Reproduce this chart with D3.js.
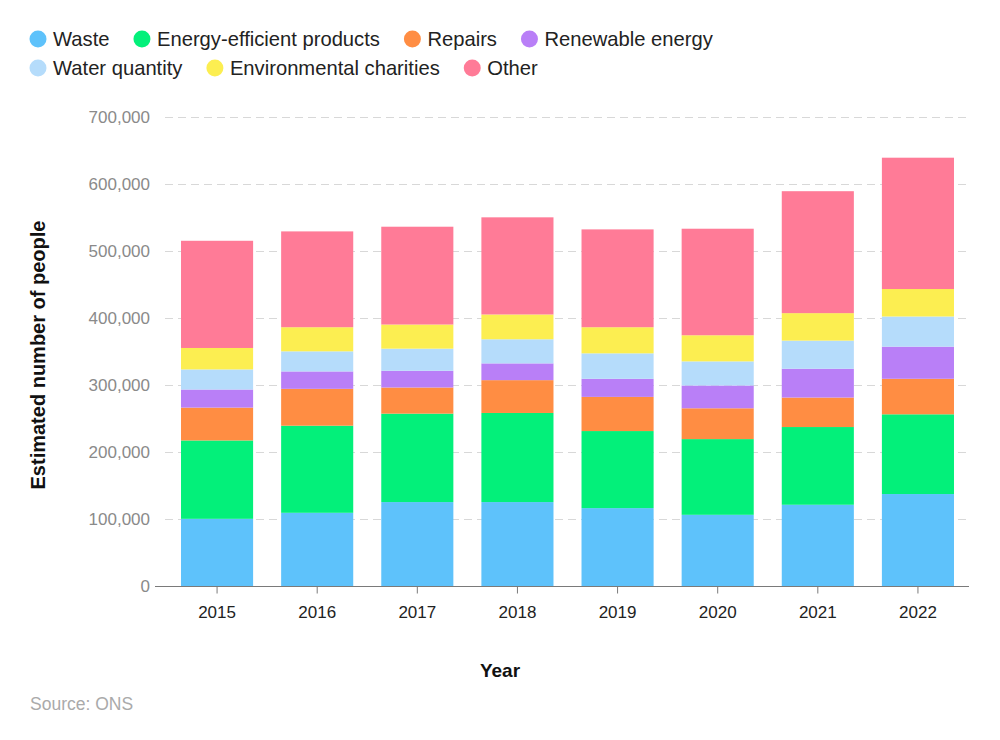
<!DOCTYPE html>
<html>
<head>
<meta charset="utf-8">
<script src="https://cdn.jsdelivr.net/npm/d3@7"></script>
<style>
  html, body { margin: 0; padding: 0; background: #fff; }
  svg { display: block; font-family: "Liberation Sans", Arial, sans-serif; }
</style>
</head>
<body>
<svg id="chart" width="1000" height="740"></svg>
<script>
const years = ["2015", "2016", "2017", "2018", "2019", "2020", "2021", "2022"];
const seriesNames = ["Waste", "Energy-efficient products", "Repairs", "Renewable energy",
                     "Water quantity", "Environmental charities", "Other"];
const seriesColors = ["#5ec2fb", "#03f07a", "#ff8d43", "#b97ff7", "#b5dcfb", "#fcee51", "#ff7b97"];
const waste      = [101000, 110000, 126000, 126000, 117000, 107000, 122000, 138000];
const energyEff  = [117000, 130000, 132000, 133000, 115000, 113000, 116000, 119000];
const repairs    = [49000, 55000, 39000, 49000, 51000, 46000, 44000, 53000];
const renewable  = [27000, 26000, 25000, 25000, 27000, 34000, 43000, 48000];
const water      = [30000, 30000, 33000, 36000, 38000, 36000, 42000, 45000];
const charities  = [32000, 36000, 36000, 37000, 39000, 39000, 41000, 41000];
const other      = [160000, 143000, 146000, 145000, 146000, 159000, 182000, 196000];
const yTicks = [0, 100000, 200000, 300000, 400000, 500000, 600000, 700000];
const yTitle = "Estimated number of people";
const xTitle = "Year";
const sourceText = "Source: ONS";

const seriesValues = [waste, energyEff, repairs, renewable, water, charities, other];
const rows = years.map((y, i) => {
  const r = { year: y };
  seriesNames.forEach((n, k) => r[n] = seriesValues[k][i]);
  return r;
});
const stacked = d3.stack().keys(seriesNames)(rows);

const svg = d3.select("#chart");
const x = d3.scaleBand().domain(years).range([167, 968]).paddingInner(0.28).paddingOuter(0.14);
const y = d3.scaleLinear().domain([0, 700000]).range([586.5, 117.5]);

// gridlines
svg.append("g").selectAll("line").data(yTicks.filter(d => d > 0)).join("line")
  .attr("x1", 165).attr("x2", 969)
  .attr("y1", d => y(d)).attr("y2", d => y(d))
  .attr("stroke", "#d8d8d8").attr("stroke-width", 1).attr("stroke-dasharray", "8,5");

// bars
const color = d3.scaleOrdinal().domain(seriesNames).range(seriesColors);
svg.append("g").selectAll("g").data(stacked).join("g")
  .attr("fill", d => color(d.key))
  .selectAll("rect").data(d => d).join("rect")
  .attr("x", d => x(d.data.year))
  .attr("width", x.bandwidth())
  .attr("y", d => y(d[1]))
  .attr("height", d => y(d[0]) - y(d[1]));

// y axis
const yAxis = svg.append("g").attr("transform", "translate(150,0)")
  .call(d3.axisLeft(y).tickValues(yTicks).tickFormat(d3.format(",")).tickSize(0).tickPadding(0));
yAxis.select(".domain").remove();
yAxis.selectAll("text").attr("fill", "#8a8a8a").style("font-size", "17px")
  .style("font-family", "'Liberation Sans', Arial, sans-serif");

// x axis
const xAxis = svg.append("g").attr("transform", "translate(0,586.5)")
  .call(d3.axisBottom(x).tickSize(7).tickPadding(12));
xAxis.select(".domain").attr("d", "M155,0H969").attr("stroke", "#7a7a7a");
xAxis.selectAll(".tick line").attr("stroke", "#7a7a7a");
xAxis.selectAll("text").attr("fill", "#222").style("font-size", "17px")
  .style("font-family", "'Liberation Sans', Arial, sans-serif");

// titles
svg.append("text").attr("transform", "translate(45,355) rotate(-90)")
  .attr("text-anchor", "middle").attr("fill", "#111")
  .style("font-size", "20px").style("font-weight", "bold").text(yTitle);
svg.append("text").attr("x", 500).attr("y", 677).attr("text-anchor", "middle")
  .attr("fill", "#111").style("font-size", "19px").style("font-weight", "bold").text(xTitle);
svg.append("text").attr("x", 30).attr("y", 710).attr("fill", "#aaaaaa")
  .style("font-size", "17.5px").text(sourceText);

// legend
const legend = svg.append("g");
let lx = 29.5, ly = 39;
const maxX = 730;
seriesNames.forEach((name, i) => {
  const g = legend.append("g");
  g.append("circle").attr("r", 8.5).attr("fill", seriesColors[i]);
  const t = g.append("text").attr("x", 15).attr("dy", "0.35em").attr("fill", "#222")
    .style("font-size", "20.2px").text(name);
  const w = 15 + t.node().getComputedTextLength();
  if (lx + 8.5 + w > maxX) { lx = 29.5; ly += 29; }
  g.attr("transform", `translate(${lx + 8.5},${ly})`);
  lx += 8.5 + w + 24;
});
</script>
</body>
</html>
